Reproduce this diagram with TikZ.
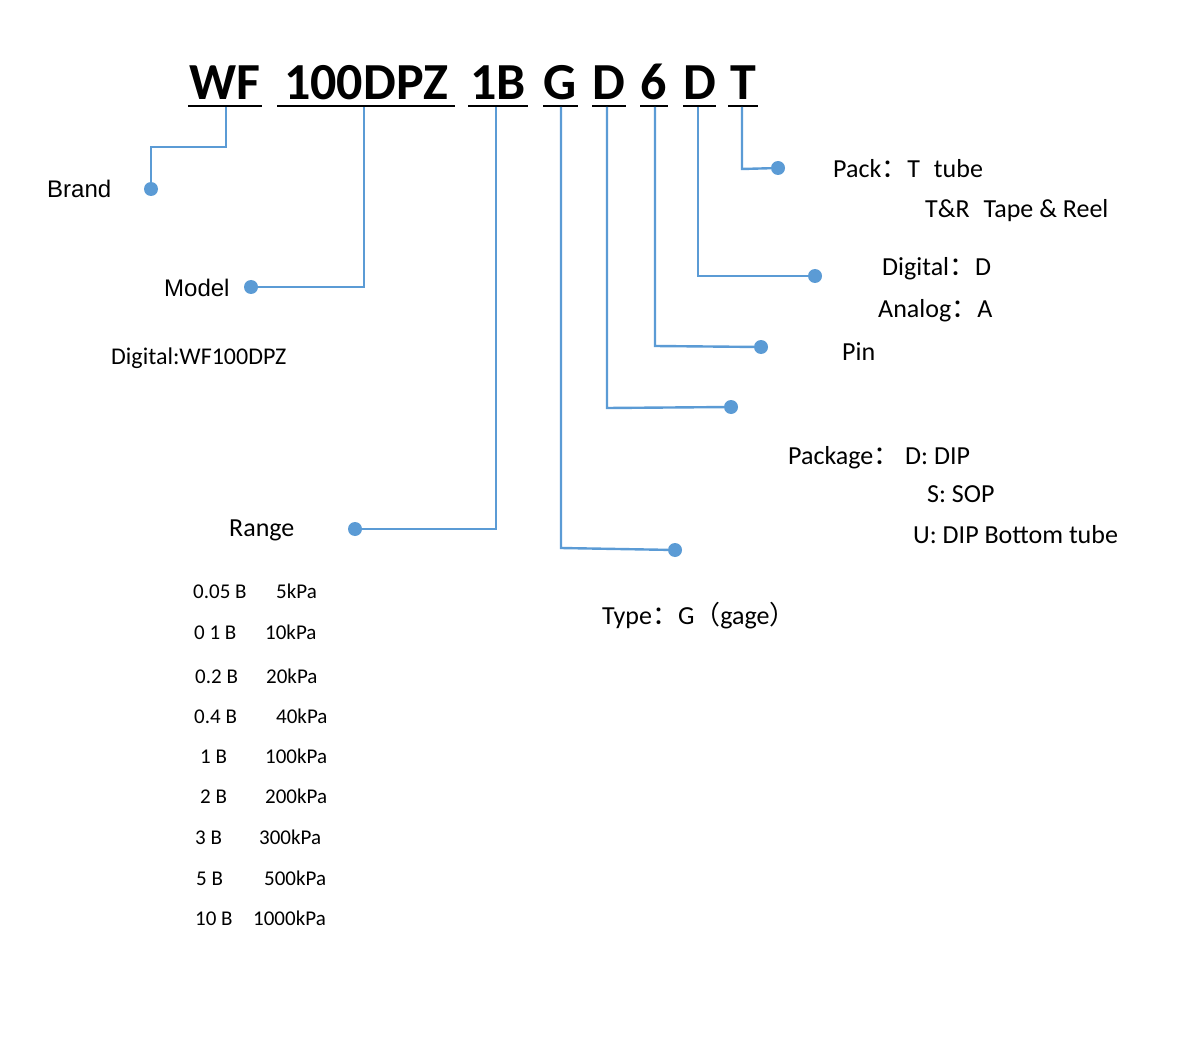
\documentclass[tikz,border=0pt]{standalone}
\usepackage{fontspec}
\setmainfont{Carlito}
\newfontfamily\arialf{Liberation Sans}
\newfontfamily\cjk{Noto Sans CJK SC}
\definecolor{ln}{HTML}{5B9BD5}
\newcommand{\fc}{{\cjk ：}}
\begin{document}
\begin{tikzpicture}[x=1pt,y=-1pt,
  wire/.style={ln,line width=2.4pt},
  dot/.style={circle,fill=ln,inner sep=0pt,minimum size=14pt},
  hd/.style={anchor=base,font=\fontsize{52}{56}\selectfont\bfseries,inner sep=0pt},
  tx/.style={anchor=base west,inner sep=0pt,font=\fontsize{26}{30}\selectfont},
  tb/.style={anchor=base west,inner sep=0pt,font=\fontsize{21}{24}\selectfont}]
\useasboundingbox (0,0) rectangle (1200,1051);
% header
\foreach \n/\t/\a/\b in {h1/WF/188/262,h2/100DPZ/277/455,h3/1B/468/528,h4/G/543/578,h5/D/592/626,h6/6/640/668,h7/D/683/716,h8/T/728/758}{
  \node[hd] (\n) at ({(\a+\b)/2},100) {\t};
  \draw[line width=2.6pt] (\a,106) -- (\b,106);
}
% dots
\node[dot] (d1) at (151,189) {};
\node[dot] (d2) at (251,287) {};
\node[dot] (d3) at (355,529) {};
\node[dot] (d4) at (675,550) {};
\node[dot] (d5) at (731,407) {};
\node[dot] (d6) at (761,347) {};
\node[dot] (d7) at (815,276) {};
\node[dot] (d8) at (778,168) {};
\coordinate (c1) at (226,107); \coordinate (c2) at (364,107);
\coordinate (c3) at (496,107); \coordinate (c4) at (561,107);
\coordinate (c5) at (607,107); \coordinate (c6) at (655,107);
\coordinate (c7) at (698,107); \coordinate (c8) at (742,107);
\draw[wire] (c1) -- (226,147) -- (151,147) -- (d1);
\draw[wire] (c2) |- (d2);
\draw[wire] (c3) |- (d3);
\draw[wire] (c4) -- (561,548) -- (d4);
\draw[wire] (c5) -- (607,408) -- (d5);
\draw[wire] (c6) -- (655,346) -- (d6);
\draw[wire] (c7) -- (698,276) -- (d7);
\draw[wire] (c8) -- (742,169) -- (d8);
% labels
\node[tx,font=\arialf\fontsize{24}{28}\selectfont] (brand) at (47,198) {Brand};
\node[tx,font=\arialf\fontsize{24}{28}\selectfont] (model) at (164,297) {Model};
\node[tx,font=\fontsize{24}{28}\selectfont] (dig) at (111,364) {Digital:WF100DPZ};
\node[tx] (range) at (229,536) {Range};
\node[tx] (pack) at (833,178) {Pack\fc T\hspace{14pt}tube};
\node[tx] (tr) at (925,218) {T\&R\hspace{14pt}Tape \& Reel};
\node[tx] (digd) at (882,276) {Digital\fc D};
\node[tx] (ana) at (878,317) {Analog\fc A};
\node[tx] (pin) at (842,360) {Pin};
\node[tx] (pk) at (788,464) {Package\fc\ D: DIP};
\node[tx] (sop) at (927,502) {S: SOP};
\node[tx] (dipb) at (913,543) {U: DIP Bottom tube};
\node[tx] (type) at (602,624) {Type\fc G{\cjk （}gage{\cjk ）}};
% range table
\foreach \n/\y/\xa/\ta/\xb/\tb in {
 r1/598/193/0.05 B/276/5kPa,
 r2/639/194/0 1 B/265/10kPa,
 r3/683/195/0.2 B/266/20kPa,
 r4/723/194/0.4 B/276/40kPa,
 r5/763/200/1 B/265/100kPa,
 r6/803/200/2 B/265/200kPa,
 r7/844/195/3 B/259/300kPa,
 r8/885/196/5 B/264/500kPa,
 r9/925/195/10 B/253/1000kPa}{
 \node[tb] (\n a) at (\xa,\y) {\ta};
 \node[tb] (\n b) at (\xb,\y) {\tb};
}
\end{tikzpicture}
\end{document}
